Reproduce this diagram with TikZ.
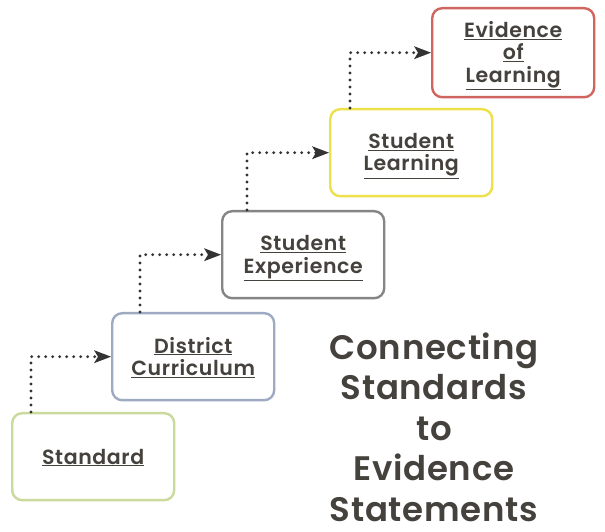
\documentclass[tikz,border=0pt]{standalone}
\usepackage{fontspec}
\setmainfont{Poppins}
\newfontfamily\boxfont[LetterSpace=3]{Poppins SemiBold}
\newfontfamily\titlefont[LetterSpace=2]{Poppins SemiBold}
\usetikzlibrary{arrows.meta}
\definecolor{txt}{HTML}{45413C}
\definecolor{cgreen}{HTML}{CAD99C}
\definecolor{cblue}{HTML}{9DAAC2}
\definecolor{cgray}{HTML}{858585}
\definecolor{cyellow}{HTML}{EEE04A}
\definecolor{cred}{HTML}{D0655F}
\definecolor{dotc}{HTML}{333333}
\tikzset{
  stepbox/.style={draw, line width=2.4pt, rounded corners=10pt, fill=white,
    minimum width=162pt, minimum height=87pt, text=txt,
    font=\boxfont\fontsize{20.5}{22}\selectfont, inner sep=0pt, anchor=north west},
  conn/.style={draw=dotc, line width=3.1pt, line cap=round,
    dash pattern=on 0pt off 7pt,
    -{Stealth[length=17pt,width=13pt,inset=4pt,fill=dotc,line cap=butt,line width=0pt]}},
}
\newcommand{\ul}[1]{\underline{#1}}
\newcommand{\bt}[1]{\raisebox{-3pt}[\height][\depth]{\begin{tabular}{@{}c@{}}#1\end{tabular}}}
\begin{document}
\begin{tikzpicture}[x=1pt,y=1pt]
\useasboundingbox (0,0) rectangle (605,532);
\fill[white] (0,0) rectangle (605,532);
\node[stepbox, draw=cgreen] (std) at (11,532-412) {\bt{\ul{Standard}}};
\node[stepbox, draw=cblue] (dc) at (111,532-312) {\bt{\ul{District}\\\ul{Curriculum}}};
\node[stepbox, draw=cgray] (se) at (221,532-210) {\bt{\ul{Student}\\\ul{Experience}}};
\node[stepbox, draw=cyellow] (sl) at (329,532-108) {\bt{\ul{Student}\\\ul{Learning}}};
\node[stepbox, draw=cred, minimum height=89pt] (el) at (431,532-7) {\bt{\ul{Evidence}\\\ul{of}\\\ul{Learning}}};
\draw[conn] ([xshift=20pt]std.north west) |- (dc.west);
\draw[conn] ([xshift=29pt]dc.north west) |- (se.west);
\draw[conn] ([xshift=26pt]se.north west) |- (sl.west);
\draw[conn] ([xshift=21pt]sl.north west) |- (el.west);
\node[text=txt, align=center, font=\titlefont\fontsize{34}{40.5}\selectfont] (title) at (434,532-427)
  {Connecting\\Standards\\to\\Evidence\\Statements};
\end{tikzpicture}
\end{document}
